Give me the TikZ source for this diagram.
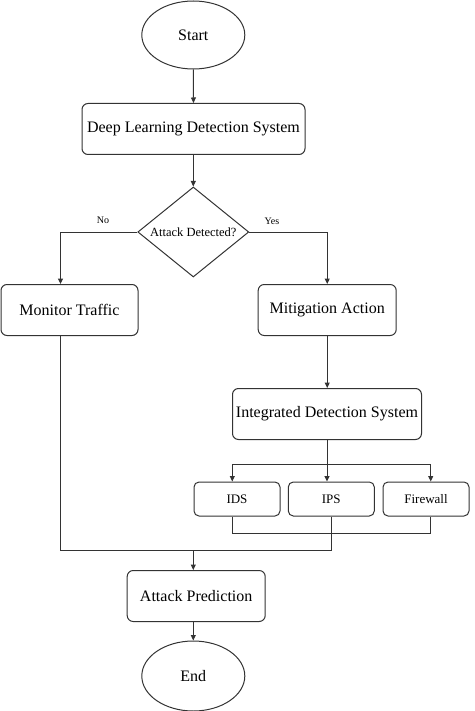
\documentclass[tikz,border=0pt]{standalone}
\usepackage{fontspec}
\setmainfont{Liberation Serif}
\usetikzlibrary{shapes.geometric,arrows.meta}
\begin{document}
\begin{tikzpicture}[x=1pt,y=-1pt,
  line/.style={draw=black!80, line width=1pt},
  arr/.style={line, -{Triangle[length=5.5pt,width=5pt]}},
  bigbox/.style={line, rounded corners=6pt, inner sep=0pt, minimum height=51pt, font=\fontsize{16}{19}\selectfont},
  smallbox/.style={line, rounded corners=5pt, inner sep=0pt, minimum width=86pt, minimum height=34pt, font=\fontsize{13}{15}\selectfont},
  term/.style={line, ellipse, inner sep=0pt, minimum width=103pt, minimum height=68pt, font=\fontsize{16}{19}\selectfont},
  decision/.style={line, diamond, inner sep=0pt, aspect=1.233, minimum width=111pt, minimum height=90pt, font=\fontsize{12.5}{15}\selectfont},
  lab/.style={font=\fontsize{10}{12}\selectfont, inner sep=0pt}
]
\useasboundingbox (0,0) rectangle (474,711);

\node[term] (start) at (193.3,35) {Start};
\node[bigbox, minimum width=223pt] (dl) at (193.5,129) {Deep Learning Detection System};
\node[decision] (dec) at (193.3,232) {Attack Detected?};
\node[bigbox, minimum width=137pt] (mon) at (69.5,310) {Monitor Traffic};
\node[bigbox, minimum width=138pt] (mit) at (327.2,310) {Mitigation Action};
\node[bigbox, minimum width=189pt] (ids) at (327,414) {Integrated Detection System};
\node[smallbox] (idsb) at (237,499) {IDS};
\node[smallbox] (ips) at (331.3,499) {IPS};
\node[smallbox] (fw) at (426,499) {Firewall};
\node[bigbox, minimum width=138pt] (ap) at (196.2,596) {Attack Prediction};
\node[term, minimum height=70pt] (end) at (193.3,676) {End};

\node[lab] (no) at (103,220) {No};
\node[lab] (yes) at (272,221) {Yes};

\coordinate (split) at (327,464.3);
\coordinate (merge) at (193.3,550);

\draw[arr] (start) -- (dl);
\draw[arr] (dl.south -| dec.north) -- (dec.north);
\draw[arr] (dec.west) -| ([xshift=-9pt]mon.north);
\draw[arr] (dec.east) -| (mit.north);
\draw[arr] (mit.south) -- (mit.south |- ids.north);
\draw[line] (ids.south) -- (split);
\draw[arr] (split) -| ([xshift=-4.7pt]idsb.north);
\draw[arr] (split) -| ([xshift=-4.3pt]ips.north);
\draw[arr] (split) -| ([xshift=4.7pt]fw.north);
\draw[line] ([xshift=-4.7pt]idsb.south) -- ++(0,16.7) -| ([xshift=4.7pt]fw.south);
\draw[line] (ips.south) |- (merge);
\draw[line] ([xshift=-9pt]mon.south) |- (merge);
\draw[arr] (merge) -- (merge |- ap.north);
\draw[arr] (end.north |- ap.south) -- (end.north);
\end{tikzpicture}
\end{document}
